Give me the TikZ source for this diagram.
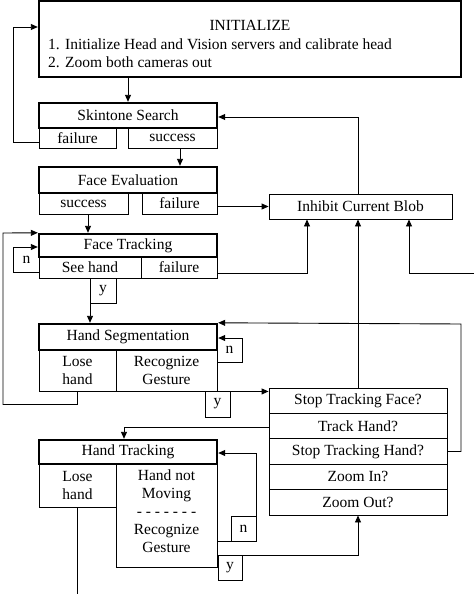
\documentclass[tikz,border=0pt]{standalone}
\usepackage{fontspec}
\setmainfont{Liberation Serif}
\usetikzlibrary{arrows.meta}
\begin{document}
\begin{tikzpicture}[x=1pt,y=-1pt, font=\fontsize{15.5}{18}\selectfont,
 box/.style={draw, line width=0.9pt, inner sep=0pt, align=center},
 tbox/.style={draw, line width=2.4pt, inner sep=0pt, align=center},
 lab/.style={inner sep=0pt},
 arr/.style={line width=0.9pt, -{Triangle[length=7pt,width=6pt]}},
 ln/.style={line width=0.9pt}]
\useasboundingbox (0,0) rectangle (474,594);
% nodes
\node[tbox, minimum width=422pt, minimum height=76pt] (init) at (250,39) {};
\node[lab, anchor=base] (initT) at (250,31) {INITIALIZE};
\node[lab, anchor=base west] (initA) at (48,49) {\makebox[17pt][l]{1.}Initialize Head and Vision servers and calibrate head};
\node[lab, anchor=base west] (initB) at (48,67) {\makebox[17pt][l]{2.}Zoom both cameras out};
\node[tbox, minimum width=178pt, minimum height=25pt] (skin) at (128,115.5) {Skintone Search};
\node[box, minimum width=77pt, minimum height=20pt] (skinF) at (77.5,138) {failure};
\node[box, minimum width=89pt, minimum height=20pt] (skinS) at (172.5,138) {success};
\node[tbox, minimum width=178pt, minimum height=26pt] (face) at (128,180) {Face Evaluation};
\node[box, minimum width=89pt, minimum height=21pt] (faceS) at (83.5,203.5) {success};
\node[box, minimum width=75pt, minimum height=21pt] (faceF) at (179.5,203.5) {failure};
\node[box, minimum width=183pt, minimum height=25pt] (inhibit) at (360.5,206.5) {Inhibit Current Blob};
\node[tbox, minimum width=178pt, minimum height=23pt] (track) at (128,245.5) {Face Tracking};
\node[box, minimum width=102pt, minimum height=21pt] (trackS) at (90,267.5) {See hand};
\node[box, minimum width=76pt, minimum height=21pt] (trackF) at (179,267.5) {failure};
\node[box, minimum width=26pt, minimum height=25pt] (yA) at (103,290.5) {y};
\node[lab] (nA) at (26.5,259.5) {n};
\node[tbox, minimum width=178pt, minimum height=26pt] (seg) at (128,337) {Hand Segmentation};
\node[box, minimum width=77pt, minimum height=41pt] (segL) at (77.5,370.5) {Lose\\hand};
\node[box, minimum width=101pt, minimum height=41pt] (segR) at (166.5,370.5) {Recognize\\Gesture};
\node[lab] (nB) at (229.5,350) {n};
\node[box, minimum width=25pt, minimum height=26pt] (yB) at (217.5,404) {y};
\node[box, minimum width=178pt, minimum height=25.4pt] (sFace) at (358,400.7) {Stop Tracking Face?};
\node[box, minimum width=178pt, minimum height=25.4pt] (sTrack) at (358,426.1) {Track Hand?};
\node[box, minimum width=178pt, minimum height=25.4pt] (sStop) at (358,451.5) {Stop Tracking Hand?};
\node[box, minimum width=178pt, minimum height=25.4pt] (sIn) at (358,476.9) {Zoom In?};
\node[box, minimum width=178pt, minimum height=25.4pt] (sOut) at (358,502.3) {Zoom Out?};
\node[tbox, minimum width=178pt, minimum height=24pt] (htrack) at (128,452) {Hand Tracking};
\node[box, minimum width=77pt, minimum height=43pt] (htL) at (77.5,485.5) {Lose\\hand};
\node[box, minimum width=101pt, minimum height=103pt] (htR) at (166.5,515.5) {};
\node[lab, align=center] (htRt) at (166.5,511.5) {Hand not\\Moving\\- - - - - - -\\Recognize\\Gesture};
\node[box, minimum width=25pt, minimum height=25pt] (nC) at (243.5,528.5) {n};
\node[box, minimum width=24pt, minimum height=25pt] (yC) at (230,567.5) {y};
% coordinates
\coordinate (c1) at (13,27);
\coordinate (offR) at (474,273);
\coordinate (bot) at (78,594);
% connectors
\draw[arr] (skin.north |- init.south) -- (skin.north);
\draw[arr] ([yshift=-4pt]skinF.west) -| (c1) -- (c1 -| init.west);
\draw[arr] (180,0 |- skinS.south) -- (180,0 |- face.north);
\draw[arr] (faceF.east |- inhibit.west) -- (inhibit.west);
\draw[arr] (88,0 |- faceS.south) -- (88,0 |- track.north);
\draw[arr] (358,0 |- inhibit.north) |- ([yshift=-1.5pt]skin.east);
\draw[arr] ([yshift=-5.5pt]trackF.east) -| (307,0 |- inhibit.south);
\draw[arr] (offR) -| (409,0 |- inhibit.south);
\draw[arr] (sFace.north) -- (sFace.north |- inhibit.south);
\draw[arr] ([yshift=-4.5pt]trackS.west) -- ++(-25,0) |- ([yshift=-1.5pt]track.west);
\draw[arr] (segL.south) -- ++(0,13) -| (3,233) -- (track.north west);
\draw[arr] (trackS.south) -- (trackS.south |- seg.north);
\draw[arr] (segR.east |- 0,362) -- ++(25,0) |- ([yshift=-1pt]seg.east);
\draw[arr] (segR.south east) -- (segR.south east -| sFace.west);
\draw[arr] ([yshift=-1pt]sTrack.west) -| (124,0 |- htrack.north);
\draw[arr] (sStop.east) -| (461,324) -- (seg.north east);
\draw[arr] (htR.east |- 0,541) -- (256,541) |- ([yshift=-1pt]htrack.east);
\draw[arr] (htR.east |- 0,555) -| (sOut.south);
\draw[ln] (htL.south) -- (htL.south |- bot);
\end{tikzpicture}
\end{document}
